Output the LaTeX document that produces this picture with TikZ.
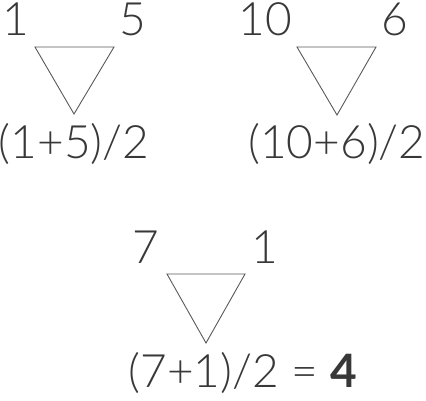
\documentclass[tikz,border=0pt]{standalone}
\usepackage{fontspec}
\setmainfont{Lato Light}[BoldFont=Lato Bold]
\begin{document}
\begin{tikzpicture}[x=1pt,y=-1pt,
  num/.style={anchor=base,inner sep=0pt,text=black!78,text height=32pt,text depth=0pt,font=\fontsize{46}{50}\selectfont},
  tri/.style={draw=black!65,line width=0.9pt,line join=miter}]
\useasboundingbox (0,0) rectangle (426,400);
% group 1
\node[num] (a1) at (16,35) {1};
\node[num] (b1) at (133,35) {5};
\coordinate (t1l) at (35,47); \coordinate (t1r) at (114,47); \coordinate (t1b) at (74,114);
\draw[tri] (t1l) -- (t1r) -- (t1b) -- cycle;
\node[num] (r1) at (74,158) {(1+5)/2};
% group 2
\node[num] (a2) at (265,35) {10};
\node[num] (b2) at (395,35) {6};
\coordinate (t2l) at (297,47); \coordinate (t2r) at (376,47); \coordinate (t2b) at (337,115);
\draw[tri] (t2l) -- (t2r) -- (t2b) -- cycle;
\node[num] (r2) at (337,158) {(10+6)/2};
% group 3
\node[num] (a3) at (146,263) {7};
\node[num] (b3) at (265,263) {1};
\coordinate (t3l) at (167,274); \coordinate (t3r) at (245,274); \coordinate (t3b) at (206,343);
\draw[tri] (t3l) -- (t3r) -- (t3b) -- cycle;
\node[num] (r3) at (243,387) {(7+1)/2 = \textbf{4}};
\end{tikzpicture}
\end{document}
